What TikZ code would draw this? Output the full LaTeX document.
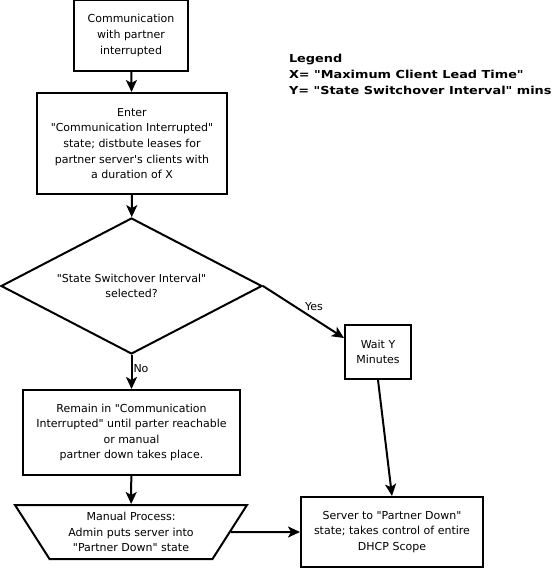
\documentclass[tikz,border=0pt]{standalone}
\usepackage{fontspec}
\setmainfont{DejaVu Sans}[Ligatures=TeXOff]
\newfontfamily\legendfont{DejaVu Sans}[Ligatures=TeXOff, FakeStretch=1.17]
\usetikzlibrary{shapes.geometric,arrows.meta}

\begin{document}
\begin{tikzpicture}[
x=1pt, y=-1pt,
font=\fontsize{11}{15.6}\selectfont,
line width=2pt,
>={Stealth[length=12pt,width=11pt,inset=3pt]},   % Pfeilspitzen
kasten/.style={draw, rectangle, align=center, inner sep=0pt},
raute/.style={draw, diamond, aspect=1.92, align=center, inner sep=0pt},
]
\useasboundingbox (0,0) rectangle (559,569);

% Kaesten
\node[kasten, minimum width=114, minimum height=71] (start) at (131,35.5)
  {Communication\\ with partner\\ interrupted};
\node[kasten, minimum width=190, minimum height=101] (enter) at (132,143.5)
  {Enter\\ "Communication Interrupted"\\ state; distbute leases for\\
   partner server's clients with\\ a duration of X};
\node[raute, minimum width=261, minimum height=136] (decide) at (131.5,286)
  {"State Switchover Interval"\\ selected?};
\node[kasten, minimum width=66, minimum height=54] (wait) at (378,352)
  {Wait Y\\ Minutes};
\node[kasten, minimum width=217, minimum height=85] (remain) at (131.5,432.5)
  {Remain in "Communication\\ Interrupted" until parter reachable\\ or manual\\
   partner down takes place.};
\node[draw, trapezium, trapezium left angle=49, trapezium right angle=49,
  shape border rotate=180, trapezium stretches body, minimum width=232,
  minimum height=54, align=center, inner sep=0pt] (manual) at (131,532)
  {Manual Process:\\ Admin puts server into\\ "Partner Down" state};
\node[kasten, minimum width=182, minimum height=70] (server) at (392,532)
  {Server to "Partner Down"\\ state; takes control of entire\\ DHCP Scope};

% Legende
\node[anchor=north west, align=left, inner sep=0pt,
  font=\legendfont\fontsize{11}{15.6}\selectfont\bfseries]
  (legend) at (288,53.5)
  {Legend\\ X= "Maximum Client Lead Time"\\ Y= "State Switchover Interval" mins};

% Pfeile
\draw[->] (start) -- (enter);
\draw[->] (enter) -- (decide);
\draw[->] (decide.east) -- ([yshift=14pt]wait.west) node[pos=0.5, above right, inner sep=0.5pt] {Yes};
\draw[->] (decide.south) -- (remain.north) node[pos=0.4, right, inner sep=1pt] {No};
\draw[->] (remain) -- (manual);
\draw[->] (manual.east) -- (server.west);
\draw[->] (wait.south) -- (server.north);
\end{tikzpicture}
\end{document}
